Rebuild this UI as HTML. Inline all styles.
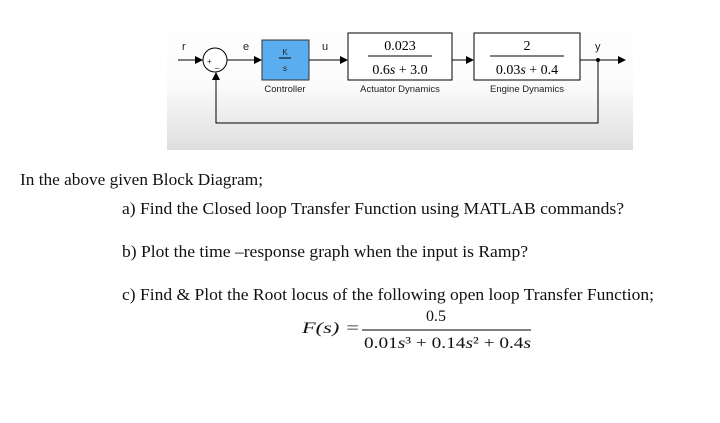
<!DOCTYPE html>
<html><head><style>body{margin:0;background:#fff}svg{display:block}</style></head>
<body>
<svg width="720" height="423" viewBox="0 0 720 423" xmlns="http://www.w3.org/2000/svg">
<defs>
<linearGradient id="g" x1="0" y1="0" x2="0" y2="1">
<stop offset="0" stop-color="#fff"/><stop offset="0.55" stop-color="#fbfbfb"/><stop offset="1" stop-color="#dedede"/>
</linearGradient>
<marker id="a" markerWidth="8" markerHeight="8" refX="7" refY="4" orient="auto" markerUnits="userSpaceOnUse"><path d="M0,0 L8,4 L0,8z" fill="#000"/></marker>
</defs>
<rect x="167" y="5" width="466" height="145" fill="url(#g)"/>
<g stroke="#000" stroke-width="1" fill="none" font-family="Liberation Sans, sans-serif">
<line x1="178" y1="60" x2="202" y2="60" marker-end="url(#a)"/>
<circle cx="215" cy="60" r="12" fill="#fff"/>
<line x1="227" y1="60" x2="261" y2="60" marker-end="url(#a)"/>
<rect x="262" y="40" width="47" height="40" fill="#5aaef0" stroke="#333"/>
<line x1="309" y1="60" x2="347" y2="60" marker-end="url(#a)"/>
<rect x="348" y="33" width="104" height="47" fill="#fff"/>
<line x1="452" y1="60" x2="473" y2="60" marker-end="url(#a)"/>
<rect x="474" y="33" width="106" height="47" fill="#fff"/>
<line x1="580" y1="60" x2="625" y2="60" marker-end="url(#a)"/>
<polyline points="598,60 598,123 216,123 216,73" marker-end="url(#a)"/>
<line x1="368" y1="56" x2="432" y2="56"/>
<line x1="490" y1="56" x2="564" y2="56"/>
<line x1="279" y1="58" x2="291" y2="58"/>
</g>
<circle cx="598" cy="60" r="2" fill="#000"/>
<g font-family="Liberation Sans, sans-serif" font-size="11" fill="#222">
<text x="182" y="50">r</text>
<text x="243" y="50">e</text>
<text x="322" y="50">u</text>
<text x="595" y="50">y</text>
<text x="207" y="64" font-size="8">+</text>
<text x="215" y="67" font-size="8">_</text>
<text x="285" y="55" text-anchor="middle" font-size="8">K</text>
<text x="285" y="71" text-anchor="middle" font-size="8">s</text>
<text x="285" y="92" text-anchor="middle" font-size="9.5">Controller</text>
<text x="400" y="92" text-anchor="middle" font-size="9.5">Actuator Dynamics</text>
<text x="527" y="92" text-anchor="middle" font-size="9.5">Engine Dynamics</text>
</g>
<g font-family="Liberation Serif, serif" font-size="14" fill="#000" text-anchor="middle">
<text x="400" y="50">0.023</text>
<text x="400" y="74">0.6<tspan font-style="italic">s</tspan> + 3.0</text>
<text x="527" y="50">2</text>
<text x="527" y="74">0.03<tspan font-style="italic">s</tspan> + 0.4</text>
</g>
<g font-family="Liberation Serif, serif" font-size="17" fill="#111">
<text x="20" y="185" textLength="243" lengthAdjust="spacingAndGlyphs">In the above given Block Diagram;</text>
<text x="122" y="214" textLength="502" lengthAdjust="spacingAndGlyphs">a) Find the Closed loop Transfer Function using MATLAB commands?</text>
<text x="122" y="257" textLength="406" lengthAdjust="spacingAndGlyphs">b) Plot the time –response graph when the input is Ramp?</text>
<text x="122" y="300" textLength="532" lengthAdjust="spacingAndGlyphs">c) Find &amp; Plot the Root locus of the following open loop Transfer Function;</text>
<text x="302" y="333" font-style="italic" font-size="16" textLength="58" lengthAdjust="spacingAndGlyphs">F(s) =</text>
<text x="436" y="321" text-anchor="middle" font-size="16">0.5</text>
<text x="364" y="348" font-size="16" textLength="167" lengthAdjust="spacingAndGlyphs">0.01<tspan font-style="italic">s</tspan>³ + 0.14<tspan font-style="italic">s</tspan>² + 0.4<tspan font-style="italic">s</tspan></text>
</g>
<line x1="362" y1="330" x2="531" y2="330" stroke="#000" stroke-width="1"/>
</svg>
</body></html>
